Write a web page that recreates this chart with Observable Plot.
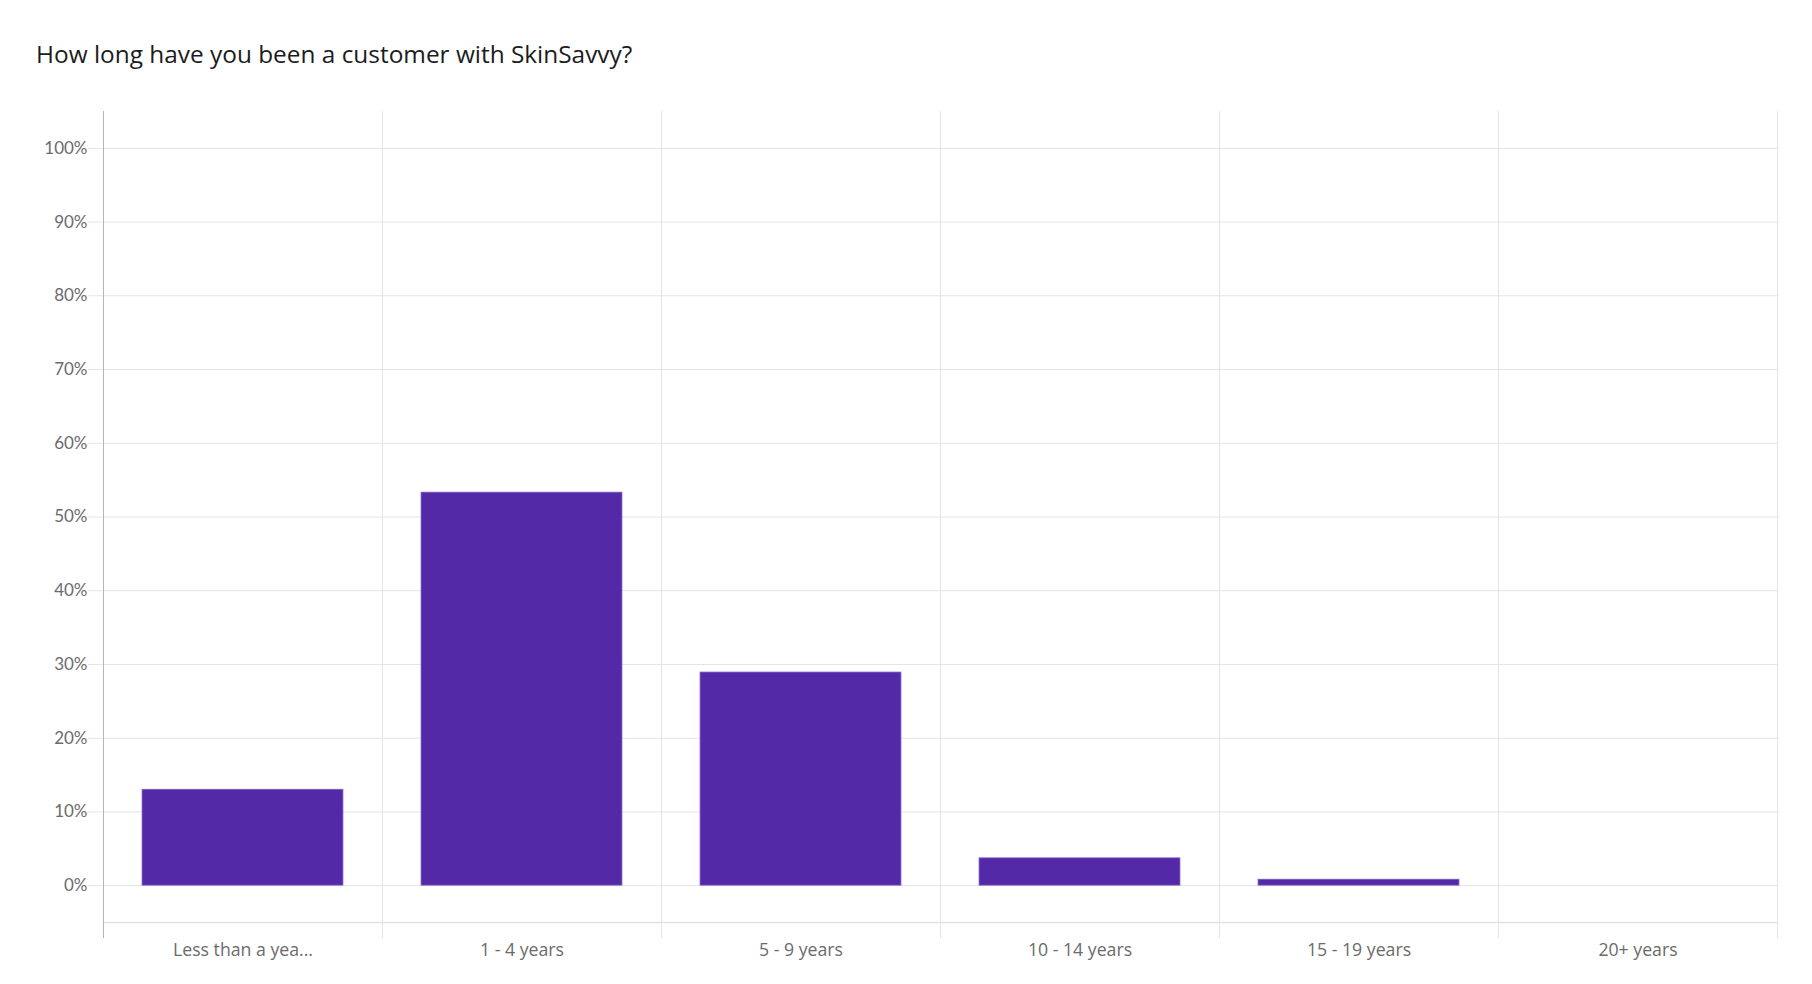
<!DOCTYPE html>
<html><head><meta charset="utf-8">
<script src="https://cdn.jsdelivr.net/npm/d3@7"></script>
<script src="https://cdn.jsdelivr.net/npm/@observablehq/plot@0.6"></script>
<style>
body{margin:0;background:#fff;font-family:Lato,sans-serif;}
#title{height:90px;position:relative;}
#title span{position:absolute;left:36px;top:42px;font-family:"Open Sans",sans-serif;font-size:24.4px;line-height:24px;color:#1c1c1c;white-space:nowrap;}
#chart svg{display:block;}
</style></head><body>
<div id="title"><span>How long have you been a customer with SkinSavvy?</span></div>
<div id="chart"></div>
<script>
const categories = ["Less than a yea...", "1 - 4 years", "5 - 9 years", "10 - 14 years", "15 - 19 years", "20+ years"];
const percents = [13.0, 53.3, 28.9, 3.7, 0.8, 0];
const yTicks = [0, 10, 20, 30, 40, 50, 60, 70, 80, 90, 100];
const yBottomLine = [-5];

const data = categories.map((c, i) => ({category: c, index: i, value: percents[i]}));

const plot = Plot.plot({
  width: 1812,
  height: 894,
  marginTop: 21,
  marginBottom: 62,
  marginLeft: 103,
  marginRight: 35,
  style: {fontFamily: "Lato, sans-serif", background: "#fff"},
  x: {domain: [0, categories.length], axis: null, label: null},
  y: {domain: [-5, 105], axis: null, label: null},
  marks: [
    Plot.ruleY(yBottomLine, {stroke: "#e2e2e2", strokeWidth: 1.3}),
    Plot.ruleY(yTicks, {stroke: "#e4e4e4", insetLeft: -15}),
    Plot.ruleX(d3.range(1, categories.length + 1), {stroke: "#e4e4e4", insetBottom: -16}),
    Plot.rectY(data, {
      x1: d => d.index + 0.14,
      x2: d => d.index + 0.86,
      y: "value",
      fill: "#5429a8",
      stroke: "#7a5cc4",
      strokeWidth: 0.8
    }),
    Plot.ruleX([0], {stroke: "#b5b5b5", insetBottom: -16}),
    Plot.axisY(yTicks, {
      tickSize: 0, tickPadding: 16, label: null,
      tickFormat: d => d + "%",
      fontSize: 17, fill: "#6b6b6b"
    }),
    Plot.axisX(categories.map((c, i) => i + 0.5), {
      tickSize: 0, tickPadding: 21, label: null,
      tickFormat: d => categories[Math.floor(d)],
      fontSize: 17.7, fontFamily: "Open Sans, sans-serif", fill: "#6b6b6b"
    })
  ]
});
document.getElementById("chart").appendChild(plot);
</script>
</body></html>
